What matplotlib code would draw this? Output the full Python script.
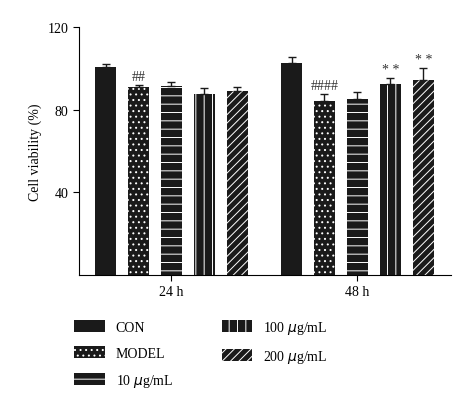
import matplotlib
matplotlib.use("Agg")
import matplotlib.pyplot as plt
import numpy as np
from matplotlib.patches import Patch

plt.rcParams['font.family'] = ['Liberation Serif']
plt.rcParams['hatch.color'] = 'white'
plt.rcParams['hatch.linewidth'] = 0.7

groups = ["24 h", "48 h"]
series = ["CON", "MODEL", "10 $\\mu$g/mL", "100 $\\mu$g/mL", "200 $\\mu$g/mL"]
values = [[100.7, 90.9, 91.2, 87.7, 89.2],
          [102.7, 84.0, 85.3, 92.5, 94.5]]
errors = [[1.5, 1.0, 2.0, 2.5, 1.5],
          [2.5, 3.7, 3.2, 2.8, 5.4]]
marks = [["", "##", "", "", ""],
         ["", "####", "", "* *", "* *"]]
hatches = [None, "...", "--", "||", "////"]

fig = plt.figure(figsize=(4.74, 4.10), dpi=100)
ax = fig.add_axes([0.167, 0.327, 0.784, 0.605])
step = 1.0
width = 0.64
centers = [2.0, 7.64]
for g in range(2):
    for s in range(5):
        x = centers[g] + (s - 2) * step
        ax.bar(x, values[g][s], width, color='#1a1a1a', hatch=hatches[s], linewidth=0)
        ax.errorbar(x, values[g][s], yerr=[[0], [errors[g][s]]], fmt='none',
                    ecolor='#1a1a1a', elinewidth=1, capsize=3, capthick=1)
        if marks[g][s]:
            ax.text(x, values[g][s] + errors[g][s] + 1, marks[g][s], ha='center',
                    va='bottom', fontsize=10, color='#333333')
ax.set_ylim(0, 120)
ax.set_xlim(-0.80, 10.47)
ax.set_yticks([40, 80, 120])
ax.set_xticks(centers)
ax.set_xticklabels(groups, fontsize=10)
ax.tick_params(labelsize=10, length=4)
ax.set_ylabel("Cell viability (%)", fontsize=10)
for sp in ['top', 'right']:
    ax.spines[sp].set_visible(False)

handles = [Patch(facecolor='#1a1a1a', hatch=h, linewidth=0) for h in hatches]
fig.legend(handles, series, loc='upper left', bbox_to_anchor=(0.13, 0.25), ncol=2,
           frameon=False, fontsize=10, columnspacing=3.5, handlelength=2.2,
           handleheight=1.0, labelspacing=0.85)
fig.savefig("out.png", dpi=100)
